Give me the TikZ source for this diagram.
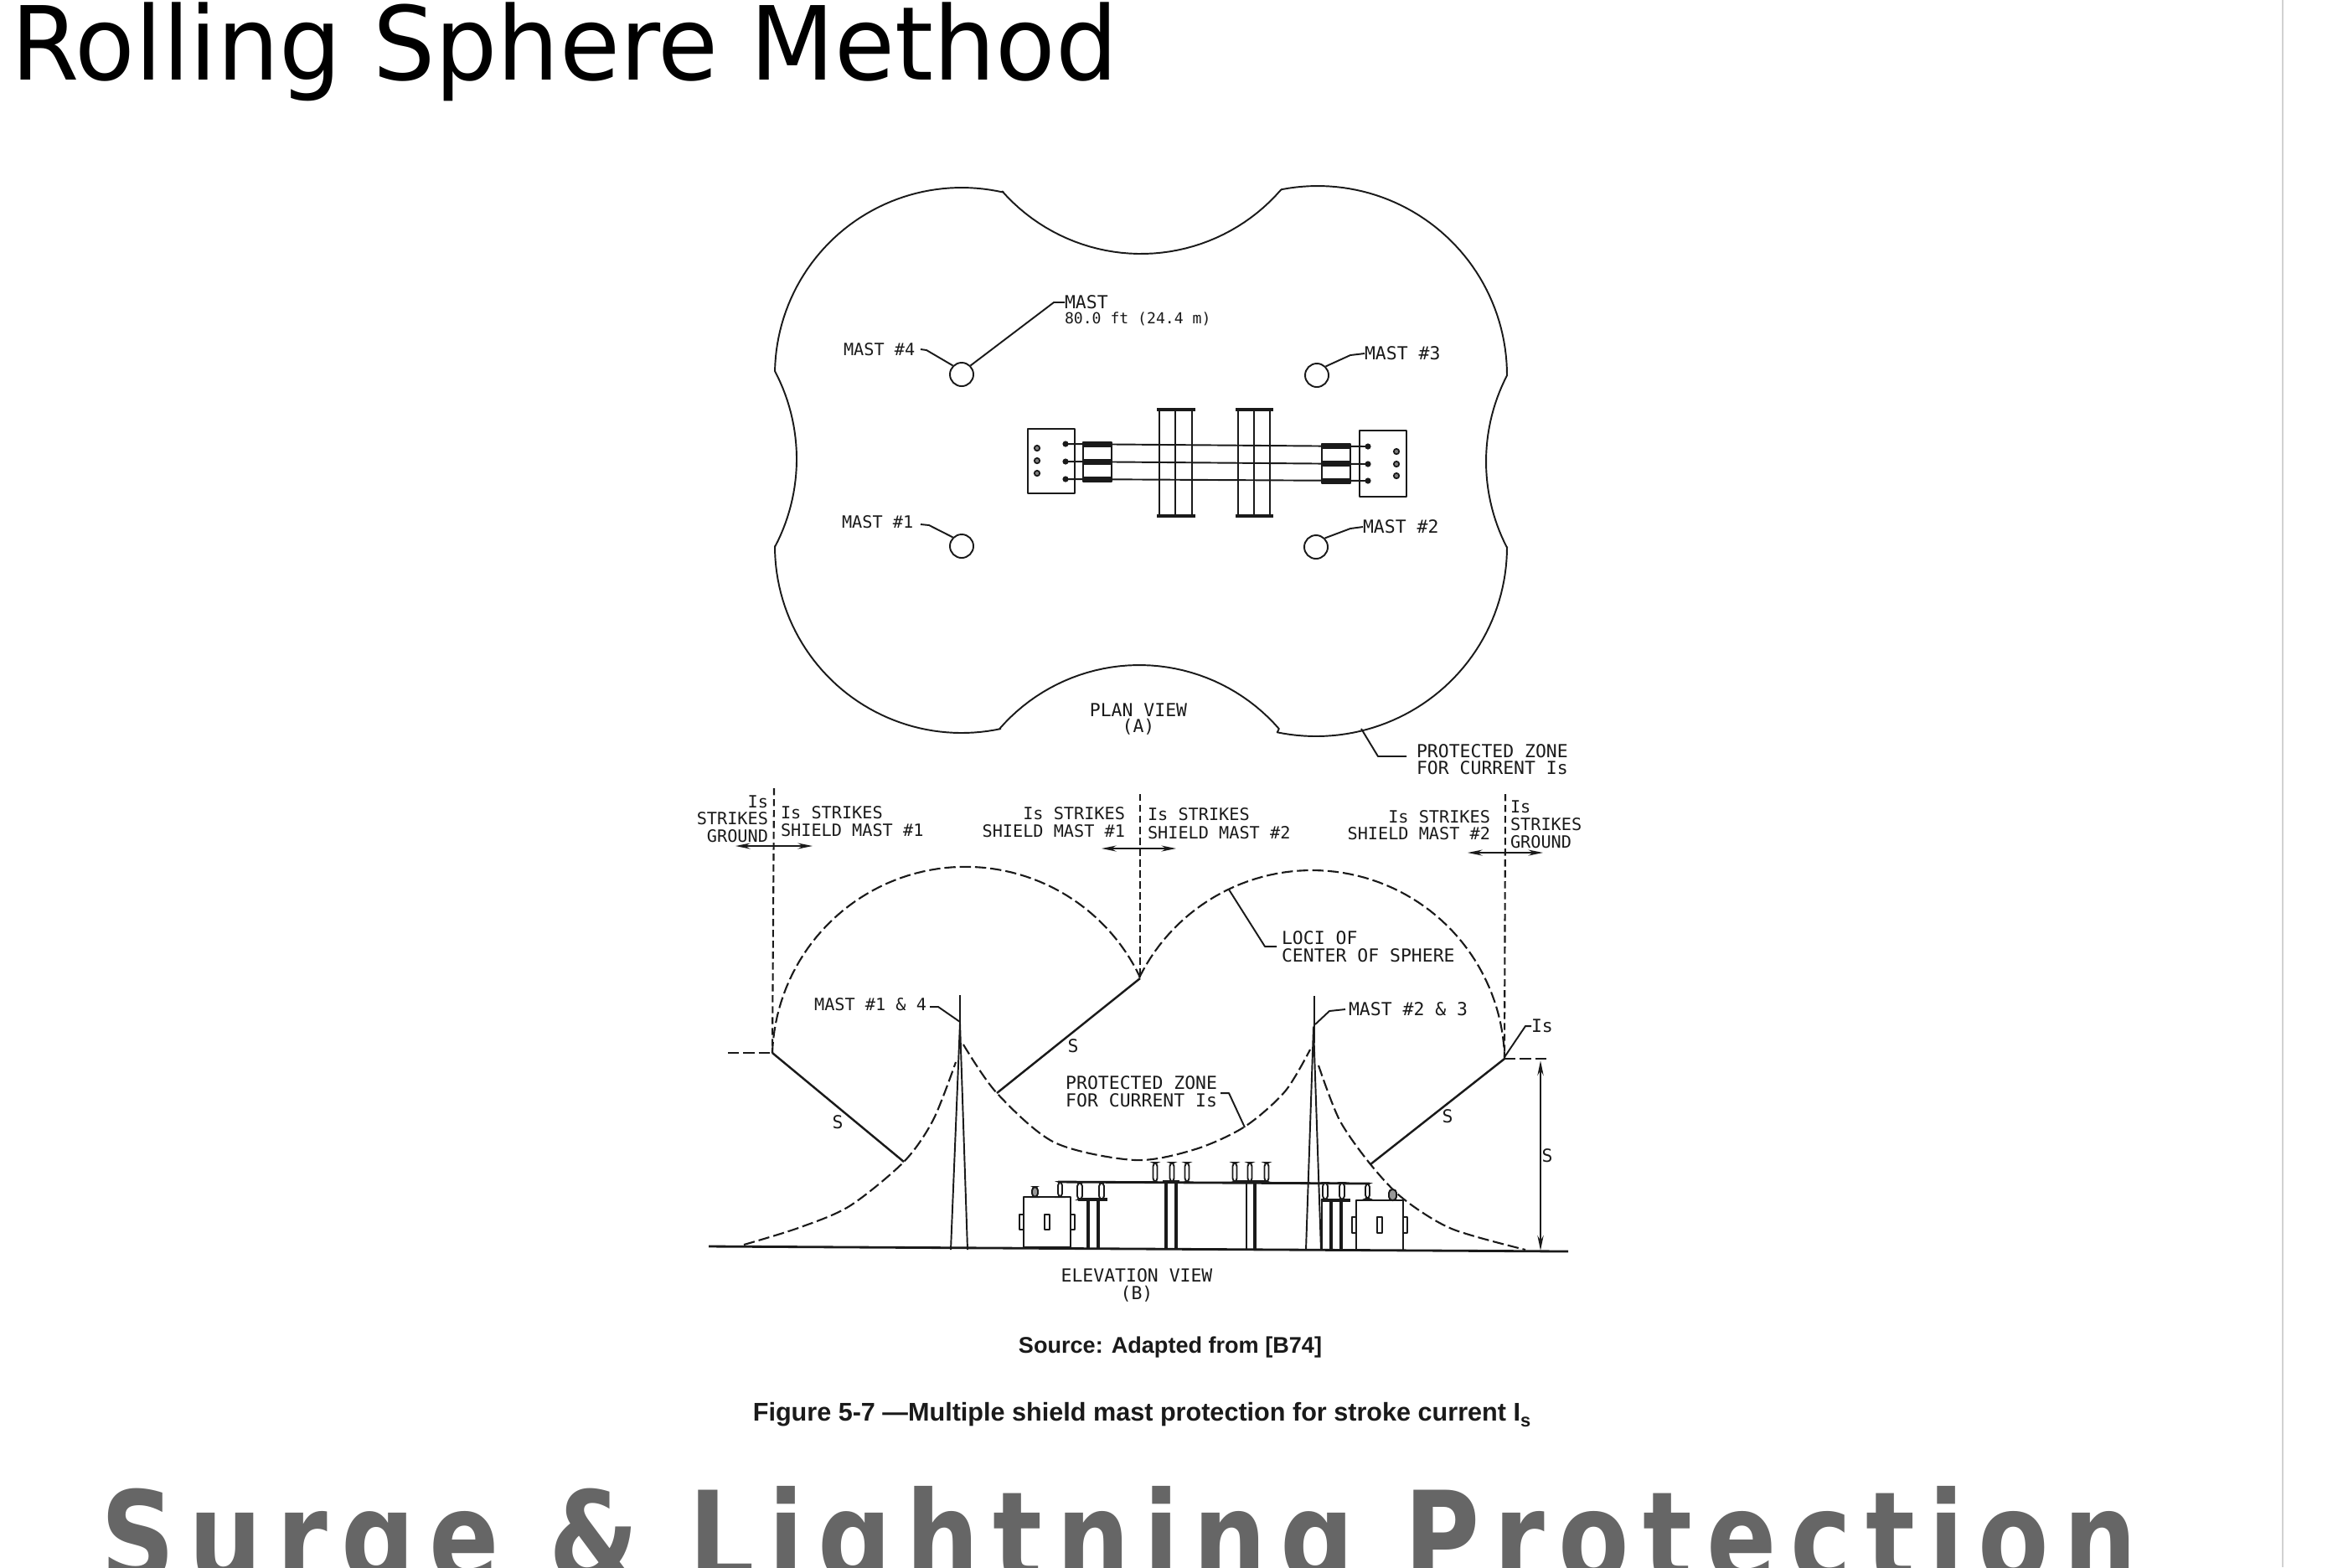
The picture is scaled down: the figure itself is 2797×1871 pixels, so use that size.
\documentclass[tikz,border=0pt]{standalone}
\usepackage{fontspec}
\setmainfont{Liberation Sans}
\newfontfamily\titlefont[FakeStretch=0.96]{DejaVu Sans}
\newfontfamily\bannerfont[FakeStretch=0.82,LetterSpace=11.1]{DejaVu Sans}
\newfontfamily\cadbase{DejaVu Sans Mono}
\usetikzlibrary{arrows.meta}
\definecolor{ink}{HTML}{1A1A1A}
\definecolor{banner}{HTML}{666666}
\tikzset{
  x=0.01cm,y=-0.01cm,
  lineart/.style={draw=ink,line width=0.55pt,line join=round},
  heavy/.style={draw=ink,line width=1.1pt},
  dashedline/.style={draw=ink,line width=0.6pt,dash pattern=on 3.8pt off 1.4pt},
  vdash/.style={draw=ink,line width=0.6pt,dash pattern=on 2.4pt off 1.3pt},
  cad/.style={inner sep=0pt,outer sep=0pt,text=ink,font=\cadbase\fontsize{6.1}{7}\selectfont},
  cadl/.style={cad,anchor=west},
  cadr/.style={cad,anchor=east},
  cadc/.style={cad,anchor=center},
  small/.style={font=\cadbase\fontsize{5.75}{7}\selectfont},
  dim/.style={draw=ink,line width=0.55pt,{Stealth[length=5pt,width=2pt]}-{Stealth[length=5pt,width=2pt]}},
  tube/.style={draw=ink,line width=0.55pt,rounded corners=1.2pt,fill=white},
}
\begin{document}
\begin{tikzpicture}
\useasboundingbox (0,0) rectangle (2797,1871);
\clip (0,0) rectangle (2797,1871);
\fill[white] (0,0) rectangle (2797,1871);
% side rule
\draw[draw=black!18,line width=0.6pt] (2725,0) -- (2725,1871);
% title and banner
\node[anchor=base west,inner sep=0pt,text=black,font=\titlefont\fontsize{34.7}{40}\selectfont] (title) at (13,95) {Rolling Sphere Method};
\node[anchor=base west,inner sep=0pt,text=banner,font=\bannerfont\bfseries\fontsize{42.7}{48}\selectfont] (banner) at (120,1888) {Surge \& Lightning Protection};
% ---------- PLAN VIEW ----------
\draw[lineart] plot[domain=181:283,samples=50] ({1148+223*cos(\x)},{447+223*sin(\x)})
  -- plot[domain=138.5:41,samples=40] ({1362+221*cos(\x)},{82+221*sin(\x)})
  -- plot[domain=259:360,samples=50] ({1573+226*cos(\x)},{448+226*sin(\x)})
  -- plot[domain=207.5:152.6,samples=30] ({1998+224*cos(\x)},{551+224*sin(\x)})
  -- plot[domain=0:101.7,samples=50] ({1571+228*cos(\x)},{653+226*sin(\x)})
  -- plot[domain=-41:-139,samples=40] ({1360+221*cos(\x)},{1015+221*sin(\x)})
  -- plot[domain=78:180,samples=50] ({1148+223*cos(\x)},{652+223*sin(\x)})
  -- plot[domain=27.7:-27.7,samples=30] ({726+225*cos(\x)},{548+225*sin(\x)}) -- cycle;
\foreach \n/\cx/\cy in {m4/1148/447,m3/1572/448,m1/1148/652,m2/1571/653}
  \node[draw=ink,line width=0.55pt,circle,minimum size=0.28cm,inner sep=0pt] (\n) at (\cx,\cy) {};
\node[cadl,small] (l4) at (1007,417) {MAST \#4};
\node[cadl] (l3) at (1629,422) {MAST \#3};
\node[cadl,small] (l1) at (1005,623) {MAST \#1};
\node[cadl] (l2) at (1627,629) {MAST \#2};
\node[cadl] (lm) at (1271,361) {MAST};
\node[cadl,font=\cadbase\fontsize{5.15}{7}\selectfont] (lm2) at (1271,381) {80.0 ft (24.4 m)};
\coordinate (l4end) at (1099,417);
\coordinate (l1end) at (1099,626);
\draw[lineart] (l4end) -- (1106,418) -- (m4.north west);
\draw[lineart] (lm.west) -- (1258,361) -- (m4.north east);
\draw[lineart] (l3.west) -- (1612,424) -- (m3.north east);
\draw[lineart] (l1end) -- (1109,627) -- (m1.north west);
\draw[lineart] (l2.west) -- (1612,631) -- (m2.north east);
\node[cadc] (planv) at (1359,848) {PLAN VIEW};
\node[cadc] (plana) at (1359,868) {(A)};
\node[cadl] (pz1) at (1691,897) {PROTECTED ZONE};
\node[cadl] (pz2) at (1691,917) {FOR CURRENT Is};
\coordinate (pzt) at (1625,870);
\draw[lineart] (pzt) -- (1645,903) -- (1679,903);
% substation plan
\draw[lineart] (1227,512) rectangle (1283,589);
\draw[lineart] (1623,514) rectangle (1679,593);
\foreach \px/\py in {1238/535,1238/550,1238/565,1667/539,1667/554,1667/568}
  \draw[ink,line width=0.5pt,fill=ink!55] (\px,\py) circle (3.2);
\foreach \px/\py in {1272/530,1272/551,1272/572,1633/533,1633/554,1633/574}
  \fill[ink] (\px,\py) circle (3.6);
\draw[lineart] (1272,530) -- (1633,533);
\draw[lineart] (1272,551) -- (1633,554);
\draw[lineart] (1272,572) -- (1633,574);
\draw[lineart] (1293,528) rectangle (1327,575);
\draw[lineart] (1578,530) rectangle (1612,577);
\foreach \yy in {530,551,572} \fill[ink] (1293,\yy-3.5) rectangle (1327,\yy+3.5);
\foreach \yy in {532,553,574} \fill[ink] (1578,\yy-3.5) rectangle (1612,\yy+3.5);
\foreach \bx in {1384,1403,1423,1478,1497,1516} \draw[lineart] (\bx,489) -- (\bx,616);
\foreach \yy in {489,616} {
  \draw[lineart,line width=1.1pt] (1381,\yy) -- (1427,\yy);
  \draw[lineart,line width=1.1pt] (1475,\yy) -- (1520,\yy);
}
% ---------- ELEVATION VIEW ----------
\draw[lineart,line width=0.8pt] (846,1488) -- (1872,1494);
% loci
\draw[dashedline] plot[domain=182:334.7,samples=70] ({1152.5+230.7*cos(\x)},{1265.5+230.7*sin(\x)});
\draw[dashedline] plot[domain=206.3:358.8,samples=70] ({1566.2+230*cos(\x)},{1269+230*sin(\x)});
% protected zone curves
\draw[dashedline] plot[smooth] coordinates {(888,1486) (953,1466) (1014,1440) (1079,1387) (1114,1337) (1141,1268)};
\draw[dashedline] plot[smooth] coordinates {(1150,1247) (1190,1305) (1259,1364) (1355,1385) (1427,1372) (1486,1345) (1534,1303) (1564,1253)};
\draw[dashedline] plot[smooth] coordinates {(1574,1272) (1599,1337) (1636,1390) (1675,1431) (1733,1467) (1821,1492)};
% verticals and dashes
\coordinate (pa) at (922,1257);
\coordinate (pb) at (1361,1168);
\coordinate (pc) at (1796,1264);
\draw[vdash] (924,941) -- (pa);
\draw[vdash] (1361,948) -- (pb);
\draw[vdash] (1797,948) -- (pc);
\draw[dashedline] (869,1257) -- (pa);
\draw[dashedline] (pc) -- (1847,1264);
% sphere radii
\draw[lineart,line width=0.7pt] (pa) -- (1079,1387);
\draw[lineart,line width=0.7pt] (pb) -- (1190,1305);
\draw[lineart,line width=0.7pt] (pc) -- (1636,1390);
% arrows
\draw[dim] (878,1010) -- (970,1010);
\draw[dim] (1315,1013) -- (1404,1013);
\draw[dim] (1752,1018) -- (1842,1018);
\draw[dim,line width=0.8pt] (1839,1266) -- (1839,1493);
% masts
\draw[lineart] (1146,1188) -- (1146,1245);
\draw[lineart] (1135,1492) -- (1146,1222) -- (1155,1492);
\draw[lineart] (1569,1189) -- (1569,1245);
\draw[lineart] (1559,1492) -- (1568,1226) -- (1577,1492);
% labels elevation
\node[cadr,small] (a1) at (917,957) {Is};
\node[cadr,small] (a2) at (917,977) {STRIKES};
\node[cadr,small] (a3) at (917,998) {GROUND};
\node[cadl,small] (b1) at (932,970) {Is STRIKES};
\node[cadl,small] (b2) at (932,991) {SHIELD MAST \#1};
\node[cadr,small] (c1) at (1343,971) {Is STRIKES};
\node[cadr,small] (c2) at (1343,992) {SHIELD MAST \#1};
\node[cadl,small] (d1) at (1370,972) {Is STRIKES};
\node[cadl,small] (d2) at (1370,994) {SHIELD MAST \#2};
\node[cadr,small] (e1) at (1779,975) {Is STRIKES};
\node[cadr,small] (e2) at (1779,995) {SHIELD MAST \#2};
\node[cadl,small] (f1) at (1803,963) {Is};
\node[cadl,small] (f2) at (1803,984) {STRIKES};
\node[cadl,small] (f3) at (1803,1005) {GROUND};
\node[cadl] (loci1) at (1530,1120) {LOCI OF};
\node[cadl] (loci2) at (1530,1141) {CENTER OF SPHERE};
\draw[lineart] (1467,1062) -- (1510,1130) -- (1524,1130);
\node[cadr,small] (m14) at (1106,1199) {MAST \#1 \& 4};
\draw[lineart] (1110,1202) -- (1120,1202) -- (1146,1220);
\node[cadl] (m23) at (1610,1205) {MAST \#2 \& 3};
\draw[lineart] (1606,1205) -- (1587,1207) -- (1570,1223);
\node[cadl] (is) at (1828,1225) {Is};
\draw[lineart] (1796,1262) -- (1821,1225) -- (1828,1225);
\node[cadr] (pzm1) at (1453,1293) {PROTECTED ZONE};
\node[cadr] (pzm2) at (1453,1314) {FOR CURRENT Is};
\draw[lineart] (1457,1305) -- (1467,1305) -- (1486,1346);
\node[cadc] (s1) at (1000,1340) {S};
\node[cadc] (s2) at (1281,1249) {S};
\node[cadc] (s3) at (1728,1333) {S};
\node[cadc] (s4) at (1847,1380) {S};
\node[cadc] (elev) at (1357,1523) {ELEVATION VIEW};
\node[cadc] (elevb) at (1357,1545) {(B)};
% substation elevation
\draw[lineart] (1222,1429) rectangle (1278,1489);
\draw[lineart] (1619,1433) rectangle (1675,1493);
\draw[lineart] (1247,1450) rectangle (1253,1468);
\draw[lineart] (1644,1453) rectangle (1650,1472);
\draw[lineart] (1222,1450) -- (1217,1450) -- (1217,1468) -- (1222,1468);
\draw[lineart] (1278,1450) -- (1283,1450) -- (1283,1468) -- (1278,1468);
\draw[lineart] (1619,1453) -- (1614,1453) -- (1614,1472) -- (1619,1472);
\draw[lineart] (1675,1453) -- (1680,1453) -- (1680,1472) -- (1675,1472);
\draw[tube,fill=ink!45] (1232,1429) rectangle (1239,1417);
\draw[tube,fill=ink!45] (1658,1433) rectangle (1667,1420);
\draw[tube] (1263,1429) rectangle (1268,1411);
\draw[tube] (1630,1431) rectangle (1635,1413);
\draw[lineart,line width=0.8pt] (1263,1411) -- (1635,1413);
\foreach \ix in {1289,1315,1582,1602} \draw[tube] (\ix-3,1432) rectangle (\ix+3,1412);
\foreach \ix in {1379,1399,1417,1474,1492,1512} \draw[tube] (\ix-2.5,1411) rectangle (\ix+2.5,1388);
\draw[heavy] (1287,1432) -- (1322,1432);
\draw[heavy] (1577,1433) -- (1612,1433);
\draw[heavy] (1388,1411) -- (1408,1411);
\draw[heavy] (1474,1411) -- (1512,1411);
\foreach \lx/\ly/\ty in {1299/1490/1432,1311/1490/1432,1392/1491/1411,1404/1491/1411,1498/1492/1411,1589/1493/1433,1601/1493/1433}
  \draw[heavy] (\lx,\ty) -- (\lx,\ly);
\draw[lineart] (1488,1411) -- (1488,1492);
\draw[lineart] (1578,1433) -- (1578,1493);
% captions
\node[anchor=center,inner sep=0pt,text=ink,font=\bfseries\fontsize{7.7}{9}\selectfont] (src) at (1397,1608) {Source: Adapted from [B74]};
\node[anchor=center,inner sep=0pt,text=ink,font=\bfseries\fontsize{8.7}{10}\selectfont] (cap) at (1363,1689) {Figure 5-7 —Multiple shield mast protection for stroke current I\raisebox{-0.25em}{\fontsize{6.2}{7}\selectfont s}};
\end{tikzpicture}
\end{document}
